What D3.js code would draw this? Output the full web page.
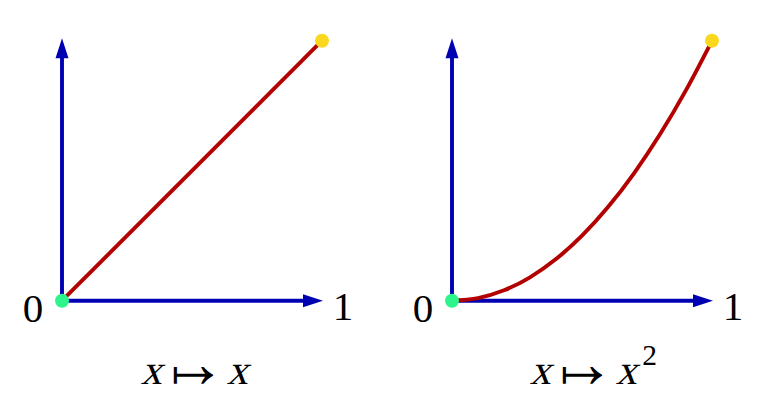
<!DOCTYPE html>
<html>
<head>
<meta charset="utf-8">
<script src="https://cdn.jsdelivr.net/npm/d3@7"></script>
<style>
  html, body { margin: 0; padding: 0; background: #fff; }
  svg { display: block; }
  text { font-family: "Liberation Serif", serif; fill: #000; }
</style>
</head>
<body>
<div id="chart"></div>
<script>
// Two unit-square plots: identity and square map on [0,1].

const domain = [0, 1];
const endLabels = ["0", "1"];

// points (x, y)
const identityPts = [[0, 0], [1, 1]];
const squarePts = [
  [0, 0], [0.1, 0.01], [0.2, 0.04], [0.3, 0.09], [0.4, 0.16], [0.5, 0.25],
  [0.6, 0.36], [0.7, 0.49], [0.8, 0.64], [0.9, 0.81], [1, 1]
];
const captions = [
  { base: "x", arrow: "\u21A6", img: "x", sup: "" },
  { base: "x", arrow: "\u21A6", img: "x", sup: "2" }
];

const W = 767, H = 416;
const AXIS = "#0000b3", CURVE = "#b30000", START = "#2df58c", END = "#fad820";

const svg = d3.select("#chart").append("svg")
  .attr("width", W).attr("height", H).attr("viewBox", `0 0 ${W} ${H}`);

const panels = [
  { pts: identityPts, xr: [62, 322], cap: captions[0], capX: 141.7 },
  { pts: squarePts, xr: [452, 712], cap: captions[1], capX: 530.7 }
];
const yr = [300.7, 40.7];

// italic-looking x: regular serif glyph, slanted
function slanted(g, x, y, txt, size) {
  return g.append("text")
    .attr("transform", `translate(${x},${y}) skewX(-15)`)
    .style("font-size", size + "px").text(txt);
}

panels.forEach((p) => {
  const x = d3.scaleLinear().domain(domain).range(p.xr);
  const y = d3.scaleLinear().domain(domain).range(yr);
  const g = svg.append("g");
  const aLen = 20, aHalf = 6.5, sw = 3.9;

  // axes (line stops at arrow base, triangle reaches the end)
  const xEnd = x(domain[1]) + 1, yEnd = y(domain[1]) - 2.5;
  g.append("line")
    .attr("x1", x(0)).attr("y1", y(0)).attr("x2", xEnd - aLen + 2).attr("y2", y(0))
    .attr("stroke", AXIS).attr("stroke-width", sw);
  g.append("path")
    .attr("d", `M${xEnd},${y(0)} L${xEnd - aLen},${y(0) - aHalf} L${xEnd - aLen},${y(0) + aHalf}Z`)
    .attr("fill", AXIS);
  g.append("line")
    .attr("x1", x(0)).attr("y1", y(0)).attr("x2", x(0)).attr("y2", yEnd + aLen - 2)
    .attr("stroke", AXIS).attr("stroke-width", sw);
  g.append("path")
    .attr("d", `M${x(0)},${yEnd} L${x(0) - aHalf},${yEnd + aLen} L${x(0) + aHalf},${yEnd + aLen}Z`)
    .attr("fill", AXIS);

  // curve
  g.append("path")
    .datum(p.pts)
    .attr("d", d3.line().x((d) => x(d[0])).y((d) => y(d[1])).curve(d3.curveMonotoneX))
    .attr("fill", "none").attr("stroke", CURVE).attr("stroke-width", sw);

  // endpoints
  const first = p.pts[0], last = p.pts[p.pts.length - 1];
  g.append("circle").attr("cx", x(first[0])).attr("cy", y(first[1])).attr("r", 7).attr("fill", START);
  g.append("circle").attr("cx", x(last[0])).attr("cy", y(last[1])).attr("r", 7).attr("fill", END);

  // end labels
  g.append("text").attr("x", x(0) - 29).attr("y", y(0) + 21)
    .attr("text-anchor", "middle").style("font-size", "41px").text(endLabels[0]);
  g.append("text").attr("x", x(1) + 21).attr("y", y(0) + 19.5)
    .attr("text-anchor", "middle").style("font-size", "41px").text(endLabels[1]);

  // caption: x |-> x^n
  const cx = p.capX, base = 384;
  slanted(g, cx - 1, base, p.cap.base, 42);
  g.append("text").attr("x", cx + 30).attr("y", base + 3)
    .style("font-family", "'Noto Sans Math'").style("font-size", "43px").text(p.cap.arrow);
  slanted(g, cx + 85, base, p.cap.img, 42);
  if (p.cap.sup)
    g.append("text").attr("x", cx + 111.5).attr("y", 365)
      .style("font-size", "29.5px").text(p.cap.sup);
});
</script>
</body>
</html>
